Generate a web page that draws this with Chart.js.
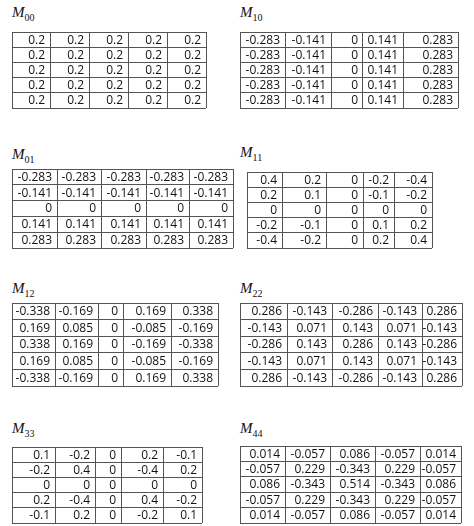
<!DOCTYPE html>
<html><head><meta charset="utf-8">
<script src="https://cdn.jsdelivr.net/npm/chart.js@4/dist/chart.umd.min.js"></script>
<style>
body{margin:0;background:#fff;width:474px;height:526px;position:relative;overflow:hidden}
.lab{position:absolute;font-family:"Liberation Serif",serif;font-style:italic;font-size:15px;color:#111}
.lab sub{font-style:normal;font-size:10px}
.box{position:absolute}
</style></head><body>
<script>
const M00=[[0.2,0.2,0.2,0.2,0.2],[0.2,0.2,0.2,0.2,0.2],[0.2,0.2,0.2,0.2,0.2],[0.2,0.2,0.2,0.2,0.2],[0.2,0.2,0.2,0.2,0.2]];
const M10=[[-0.283,-0.141,0,0.141,0.283],[-0.283,-0.141,0,0.141,0.283],[-0.283,-0.141,0,0.141,0.283],[-0.283,-0.141,0,0.141,0.283],[-0.283,-0.141,0,0.141,0.283]];
const M01=[[-0.283,-0.283,-0.283,-0.283,-0.283],[-0.141,-0.141,-0.141,-0.141,-0.141],[0,0,0,0,0],[0.141,0.141,0.141,0.141,0.141],[0.283,0.283,0.283,0.283,0.283]];
const M11=[[0.4,0.2,0,-0.2,-0.4],[0.2,0.1,0,-0.1,-0.2],[0,0,0,0,0],[-0.2,-0.1,0,0.1,0.2],[-0.4,-0.2,0,0.2,0.4]];
const M12=[[-0.338,-0.169,0,0.169,0.338],[0.169,0.085,0,-0.085,-0.169],[0.338,0.169,0,-0.169,-0.338],[0.169,0.085,0,-0.085,-0.169],[-0.338,-0.169,0,0.169,0.338]];
const M22=[[0.286,-0.143,-0.286,-0.143,0.286],[-0.143,0.071,0.143,0.071,-0.143],[-0.286,0.143,0.286,0.143,-0.286],[-0.143,0.071,0.143,0.071,-0.143],[0.286,-0.143,-0.286,-0.143,0.286]];
const M33=[[0.1,-0.2,0,0.2,-0.1],[-0.2,0.4,0,-0.4,0.2],[0,0,0,0,0],[0.2,-0.4,0,0.4,-0.2],[-0.1,0.2,0,-0.2,0.1]];
const M44=[[0.014,-0.057,0.086,-0.057,0.014],[-0.057,0.229,-0.343,0.229,-0.057],[0.086,-0.343,0.514,-0.343,0.086],[-0.057,0.229,-0.343,0.229,-0.057],[0.014,-0.057,0.086,-0.057,0.014]];
const tableNames=["00","10","01","11","12","22","33","44"];
const tableData=[M00,M10,M01,M11,M12,M22,M33,M44];
const layouts=[
 {lx:12,ly:4,cols:[12,50,89,128,167,206],top:32,bot:108},
 {lx:240,ly:4,cols:[240,285,331,363,403,458],top:32,bot:108},
 {lx:12,ly:146,cols:[12,57,101,146,189,233],top:169,bot:248},
 {lx:240,ly:144,cols:[247,282,326,363,394,432],top:172,bot:248},
 {lx:12,ly:280,cols:[12,55,98,123,171,218],top:303,bot:386},
 {lx:240,ly:280,cols:[240,287,332,378,422,462],top:303,bot:386},
 {lx:12,ly:420,cols:[12,55,95,121,163,202],top:447,bot:523},
 {lx:240,ly:420,cols:[240,285,330,375,420,461],top:446,bot:523}
];
const fmt=v=>String(v);
const textPlugin={id:'cellText',afterDatasetsDraw(chart){
  const ctx=chart.ctx, meta=chart.getDatasetMeta(0), ds=chart.data.datasets[0];
  ctx.save();ctx.fillStyle='#111';ctx.font='12px "Open Sans", "Liberation Sans", sans-serif';
  ctx.textAlign='right';ctx.textBaseline='middle';
  meta.data.forEach((p,i)=>{ctx.fillText(fmt(ds.data[i].v),p.x,p.y+0.5);});
  ctx.restore();}};
tableData.forEach((mat,t)=>{
  const L=layouts[t];
  const lab=document.createElement('div');lab.className='lab';
  lab.style.left=L.lx+'px';lab.style.top=L.ly+'px';
  lab.innerHTML='M<sub>'+tableNames[t]+'</sub>';document.body.appendChild(lab);
  const x0=L.cols[0], w=L.cols[5]-x0, h=L.bot-L.top;
  const box=document.createElement('div');box.className='box';
  box.style.left=(x0-1)+'px';box.style.top=(L.top-1)+'px';
  box.style.width=(w+2)+'px';box.style.height=(h+2)+'px';
  const cv=document.createElement('canvas');box.appendChild(cv);document.body.appendChild(box);
  const b=L.cols.map(c=>c-x0);
  const pts=[];
  mat.forEach((row,r)=>row.forEach((v,c)=>pts.push({x:b[c+1]-5,y:r+0.5,v})));
  new Chart(cv,{type:'scatter',data:{datasets:[{data:pts,pointRadius:0,pointHoverRadius:0}]},
   plugins:[textPlugin],
   options:{responsive:true,maintainAspectRatio:false,animation:false,events:[],
    layout:{padding:1},
    plugins:{legend:{display:false},tooltip:{enabled:false}},
    scales:{
     x:{type:'linear',min:0,max:w,afterBuildTicks:s=>{s.ticks=b.map(v=>({value:v}));},
        ticks:{display:false},border:{display:false},grid:{color:'#555',lineWidth:1,drawTicks:false}},
     y:{type:'linear',min:0,max:5,reverse:true,afterBuildTicks:s=>{s.ticks=[0,1,2,3,4,5].map(v=>({value:v}));},
        ticks:{display:false},border:{display:false},grid:{color:'#555',lineWidth:1,drawTicks:false}}
    }}});
});
</script>
</body></html>
